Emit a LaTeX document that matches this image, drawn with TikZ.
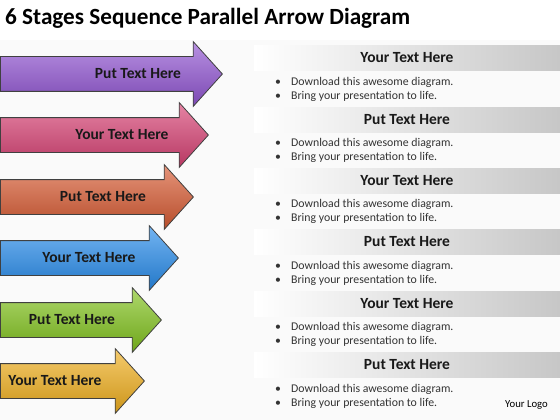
\documentclass[tikz,border=0pt]{standalone}
\usepackage{fontspec}
\setmainfont{Carlito}
\usetikzlibrary{shapes.arrows, positioning}

\definecolor{stagepurple}{RGB}{145,85,210}
\definecolor{stagepink}{RGB}{215,65,115}
\definecolor{stageorange}{RGB}{215,90,50}
\definecolor{stageblue}{RGB}{40,140,235}
\definecolor{stagegreen}{RGB}{130,195,30}
\definecolor{stageyellow}{RGB}{240,175,30}

\tikzset{
  stagearrow/.style={single arrow, anchor=tail,
    single arrow head extend=15pt, single arrow tip angle=96,
    inner xsep=0pt, inner ysep=17pt, draw=black!75, line width=0.8pt,
    top color=#1!65!white, middle color=#1, bottom color=#1!85!black},
  stagetext/.style={font=\bfseries\fontsize{15.5}{18}\selectfont, text=black!90},
  headband/.style={minimum width=306pt, minimum height=25pt, inner sep=0pt,
    left color=white, right color=black!22,
    font=\bfseries\fontsize{15.5}{18}\selectfont, text=black!90},
  bulletline/.style={anchor=west, inner sep=0pt,
    font=\fontsize{11.8}{14}\selectfont, text=black!80}
}
\newcommand{\bitem}[1]{\makebox[16pt][l]{\textbullet}#1}

\begin{document}
\begin{tikzpicture}[x=1pt, y=-1pt]
		\useasboundingbox (0,0) rectangle (560,420);
		\fill[black!2] (0,40) rectangle (560,420);
		
		\node[anchor=west, inner sep=0pt, font=\bfseries\fontsize{23.2}{27}\selectfont] (title) at (5,18) {6 Stages Sequence Parallel Arrow Diagram};
		
		% arrows on the left
		\node[stagearrow=stagepurple, minimum height=222pt] (a1) at (0,74) {};
		\node[stagearrow=stagepink, minimum height=208pt] (a2) at (0,135) {};
		\node[stagearrow=stageorange, minimum height=193pt] (a3) at (0,197) {};
		\node[stagearrow=stageblue, minimum height=178pt] (a4) at (0,258) {};
		\node[stagearrow=stagegreen, minimum height=161pt] (a5) at (0,320) {};
		\node[stagearrow=stageyellow, minimum height=144pt] (a6) at (0,381) {};
		
		\node[stagetext] (t1) at (138,74) {Put Text Here};
		\node[stagetext] (t2) at (122,135) {Your Text Here};
		\node[stagetext] (t3) at (103,197) {Put Text Here};
		\node[stagetext] (t4) at (89,258) {Your Text Here};
		\node[stagetext] (t5) at (72,320) {Put Text Here};
		\node[stagetext] (t6) at (55,381) {Your Text Here};
		
		% text blocks on the right
		\node[headband] (h1) at (407,58) {Your Text Here};
		\node[headband] (h2) at (407,120) {Put Text Here};
		\node[headband] (h3) at (407,181) {Your Text Here};
		\node[headband] (h4) at (407,242) {Put Text Here};
		\node[headband] (h5) at (407,304) {Your Text Here};
		\node[headband] (h6) at (407,365) {Put Text Here};
		
		\node[bulletline] (b1a) at (275,82) {\bitem{Download this awesome diagram.}};
		\node[bulletline, below=4pt of b1a.south west, anchor=north west] (b1b) {\bitem{Bring your presentation to life.}};
		\node[bulletline] (b2a) at (275,143) {\bitem{Download this awesome diagram.}};
		\node[bulletline, below=4pt of b2a.south west, anchor=north west] (b2b) {\bitem{Bring your presentation to life.}};
		\node[bulletline] (b3a) at (275,204) {\bitem{Download this awesome diagram.}};
		\node[bulletline, below=4pt of b3a.south west, anchor=north west] (b3b) {\bitem{Bring your presentation to life.}};
		\node[bulletline] (b4a) at (275,266) {\bitem{Download this awesome diagram.}};
		\node[bulletline, below=4pt of b4a.south west, anchor=north west] (b4b) {\bitem{Bring your presentation to life.}};
		\node[bulletline] (b5a) at (275,327) {\bitem{Download this awesome diagram.}};
		\node[bulletline, below=4pt of b5a.south west, anchor=north west] (b5b) {\bitem{Bring your presentation to life.}};
		\node[bulletline] (b6a) at (275,389) {\bitem{Download this awesome diagram.}};
		\node[bulletline, below=4pt of b6a.south west, anchor=north west] (b6b) {\bitem{Bring your presentation to life.}};
		
		\node[anchor=east, inner sep=0pt, font=\fontsize{10.7}{12}\selectfont] (logo) at (548,405) {Your Logo};
		\end{tikzpicture}
\end{document}
